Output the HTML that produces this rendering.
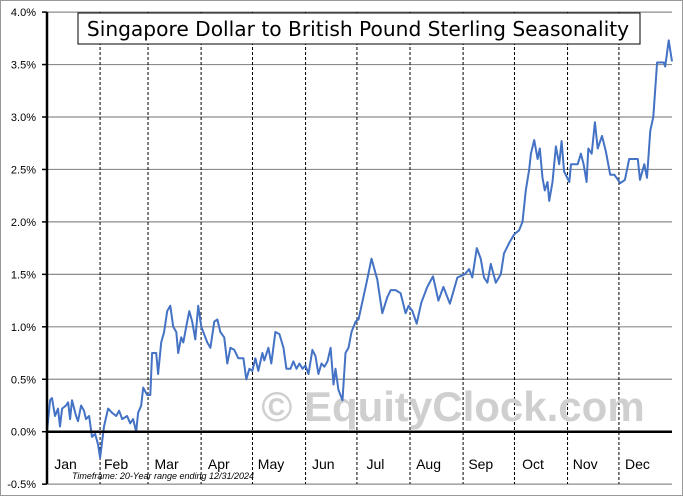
<!DOCTYPE html>
<html><head><meta charset="utf-8"><style>
body{margin:0;background:#fff;}
svg{display:block;font-family:"Liberation Sans",sans-serif;}
</style></head><body>
<svg id="chart" width="683" height="496">
<rect x="0.5" y="0.5" width="682" height="495" fill="#fff" stroke="#999"/>
<g id="grid"></g>
<text x="453" y="421" text-anchor="middle" font-size="42" font-weight="bold" fill="#cfcfcf">© EquityClock.com</text>
<g id="series"></g>
<g id="axes"></g>
<rect x="78" y="13" width="562" height="31" fill="#fff" stroke="#000"/>
<text x="358" y="36" text-anchor="middle" font-size="20.2" fill="#000" style="font-family:'DejaVu Sans',sans-serif">Singapore Dollar to British Pound Sterling Seasonality</text>
<text x="72" y="479" font-size="9" font-style="italic" fill="#000">Timeframe: 20-Year range ending 12/31/2024</text>
</svg>
<script>
const days=[0,1.8,2.9,4.7,6.4,7.6,8.8,11.1,12.3,13.5,14.6,17,18.1,19.9,21.6,22.8,24.6,26.3,28.1,29.8,31,33.3,35.7,38,40.4,42.1,43.9,46.8,48.6,50.3,52.1,53.2,55,56.2,58.5,60.3,61.4,63.8,64.9,66.7,68.4,70.2,72,73.7,75.5,76.6,78.4,79.6,81.3,83.1,84.8,86.6,88.3,90.1,93.6,95.4,97.7,99.5,101.2,103.5,105.3,107.1,109.4,111.7,114.7,116.4,118.2,119.9,121.7,123.4,125.8,126.9,129.3,131,133.4,135.7,138.1,139.8,142.2,143.9,145.7,147.4,149.2,150.9,152.7,155,156.8,158.5,160.3,162,163.8,165.6,167.3,168.5,170.2,172.6,174.3,176.1,177.8,180.2,181.9,187,189.5,192.9,195.8,198.7,200.7,203.6,206.5,209.4,211.2,213.4,215.9,218.6,222.1,225.4,228.6,231.5,235.3,239.7,244,246.5,248.4,251,253.3,255.2,257.2,259.2,262.1,265,266.9,269.9,272.8,275.7,277.7,279.6,281.6,282.6,284.5,286.5,287.8,289.4,290.7,292.3,293.3,295.2,297.2,299.1,300.5,302,305,306,309.9,311.8,313.4,315.1,316.1,318.1,320,321.6,324.1,326.4,328.9,331.3,334.8,337.5,340,345,346.3,348.8,350.4,352.3,354.1,356.3,360.2,361,363.1,365];
const values=[0,0.3,0.32,0.15,0.22,0.05,0.22,0.25,0.28,0.12,0.3,0.15,0.1,0.25,0.2,0.12,0.15,-0.05,-0.02,-0.12,-0.25,0.05,0.22,0.18,0.15,0.2,0.12,0.15,0.08,0.12,0.0,0.18,0.25,0.42,0.35,0.35,0.75,0.75,0.55,0.85,0.95,1.15,1.2,1.0,0.95,0.75,0.9,0.85,1.0,1.15,1.05,0.88,1.2,1.0,0.85,0.8,1.05,1.07,0.95,0.9,0.65,0.8,0.78,0.7,0.7,0.5,0.6,0.58,0.7,0.58,0.75,0.68,0.8,0.65,0.95,0.93,0.8,0.6,0.6,0.67,0.6,0.65,0.6,0.63,0.55,0.78,0.72,0.55,0.65,0.62,0.67,0.8,0.45,0.6,0.4,0.3,0.75,0.8,0.95,1.05,1.07,1.45,1.65,1.45,1.13,1.28,1.35,1.35,1.32,1.13,1.2,1.15,1.03,1.23,1.38,1.48,1.25,1.38,1.22,1.47,1.5,1.55,1.47,1.75,1.65,1.47,1.42,1.6,1.42,1.5,1.7,1.8,1.88,1.92,2.0,2.3,2.5,2.65,2.78,2.6,2.7,2.42,2.3,2.38,2.2,2.38,2.72,2.55,2.77,2.48,2.38,2.55,2.55,2.65,2.55,2.38,2.7,2.65,2.95,2.7,2.82,2.67,2.45,2.45,2.37,2.4,2.6,2.6,2.4,2.55,2.42,2.87,3.0,3.52,3.52,3.48,3.73,3.53];
const yTicks=[4.0,3.5,3.0,2.5,2.0,1.5,1.0,0.5,0.0,-0.5];
const months=["Jan","Feb","Mar","Apr","May","Jun","Jul","Aug","Sep","Oct","Nov","Dec"];
const monthStarts=[0,31,59,90,120,151,181,212,243,273,304,334,365];

const X0=47,X1=672,Y0=431.7,PPU=104.9;
const xs=d=>X0+d*(X1-X0)/365;
const ys=v=>Y0-v*PPU;
const NS="http://www.w3.org/2000/svg";
function mk(t,a,p){const e=document.createElementNS(NS,t);for(const k in a)e.setAttribute(k,a[k]);p.appendChild(e);return e;}
const grid=document.getElementById('grid'),axes=document.getElementById('axes'),ser=document.getElementById('series');
yTicks.forEach(t=>{
  const y=ys(t);
  if(t!==0){const g=mk('line',{x1:X0,x2:X1,y1:y,y2:y,stroke:'#8c8c8c','stroke-width':1.2},grid);
  
  }
  const tk=mk('line',{x1:X0-5,x2:X0,y1:y,y2:y,stroke:'#000','stroke-width':1.5},axes);
  
  
  const l=mk('text',{x:36,y:y+4,'text-anchor':'end','font-size':11,fill:'#000'},axes);
  l.textContent=t.toFixed(1)+'%';
  
  
});
monthStarts.slice(1,12).forEach(d=>{
  const x=xs(d);
  const g=mk('line',{x1:x,x2:x,y1:12,y2:484,stroke:'#000','stroke-width':1,'stroke-dasharray':'3,2'},grid);
  
  
});
months.forEach((m,i)=>{
  const t=mk('text',{x:(xs(monthStarts[i])+xs(monthStarts[i+1]))/2-8,y:469,'text-anchor':'middle','font-size':14,fill:'#000'},axes);
  t.textContent=m;
  
  
});
const ya=mk('line',{x1:X0,x2:X0,y1:12,y2:484,stroke:'#000','stroke-width':2.5},axes);


const xa=mk('line',{x1:X0,x2:X1,y1:ys(0),y2:ys(0),stroke:'#000','stroke-width':2.5},axes);


const pts=days.map((d,i)=>xs(d).toFixed(1)+','+ys(values[i]).toFixed(1)).join(' ');
const pl=mk('polyline',{points:pts,fill:'none',stroke:'#4472c4','stroke-width':2,'stroke-linejoin':'round'},ser);


</script>
</body></html>
